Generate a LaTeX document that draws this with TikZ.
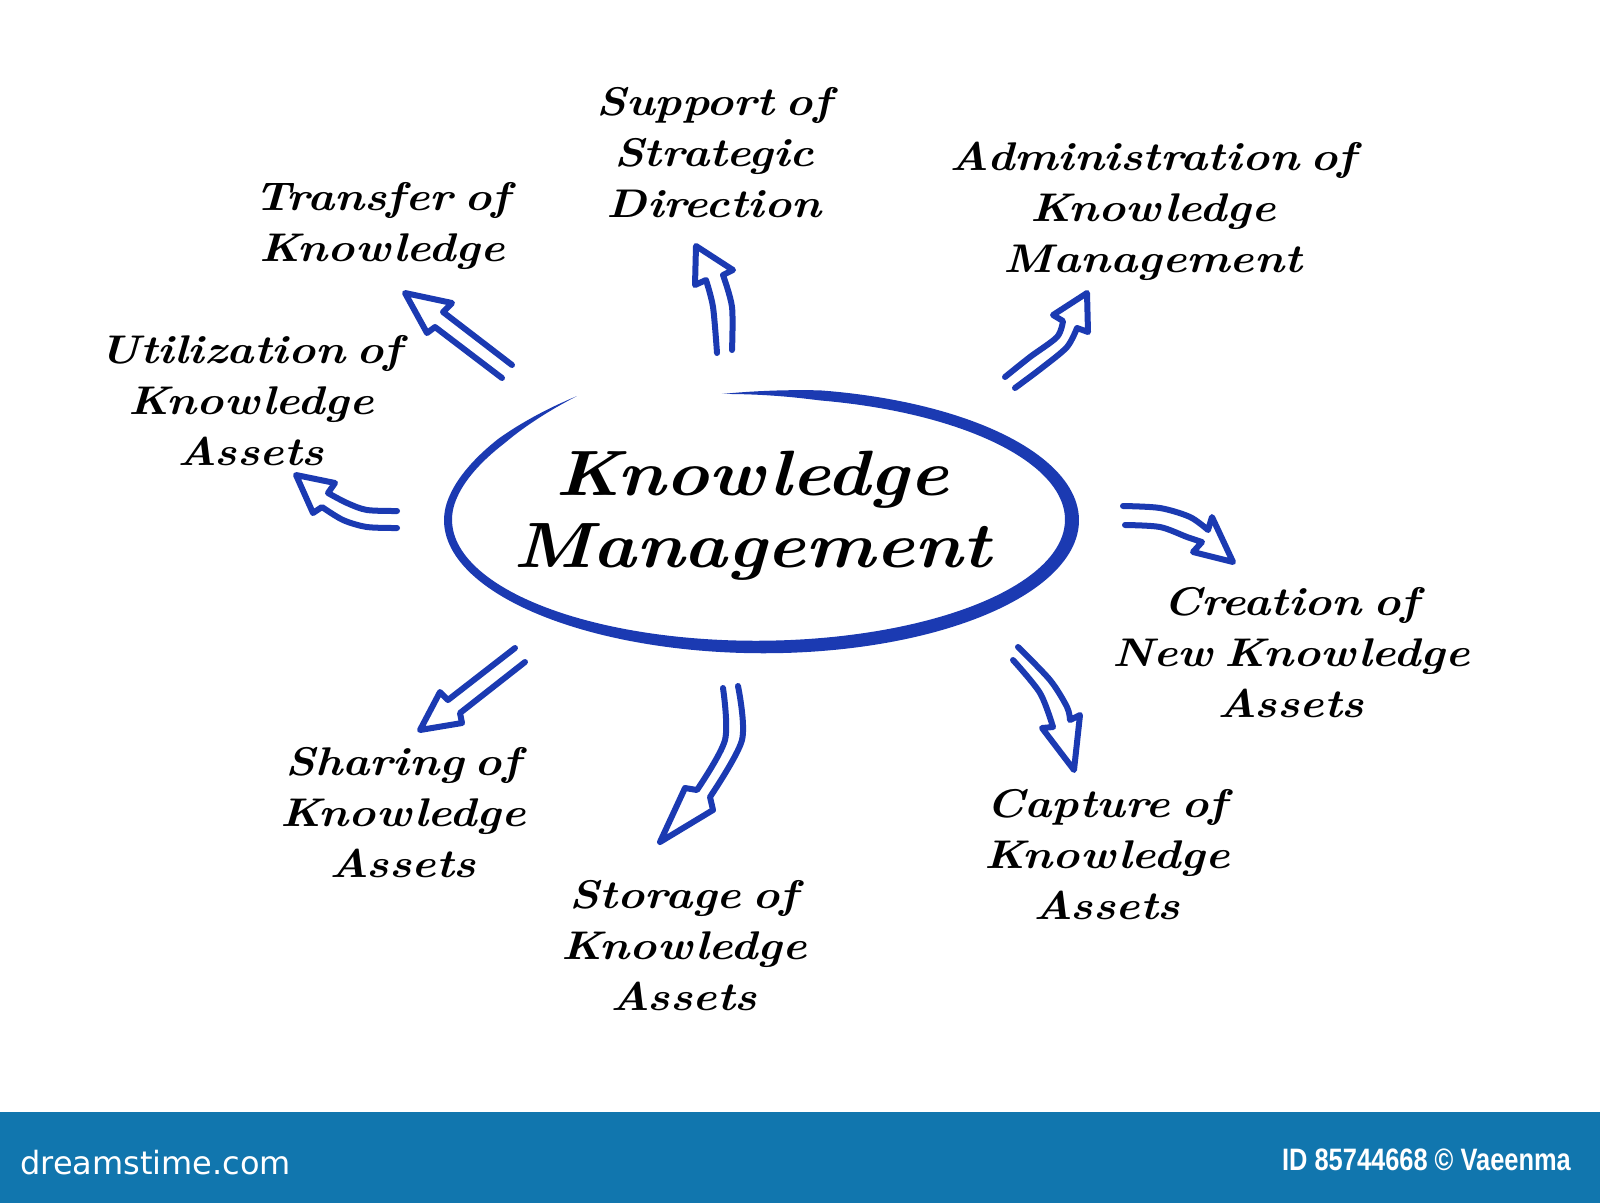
\documentclass[tikz,border=0pt]{standalone}
\usepackage{fontspec}
\newfontfamily\hand{lmroman10-bolditalic}[Extension=.otf, FakeStretch=1.15, WordSpace=0.6]
\newfontfamily\bannersans{Liberation Sans}[FakeStretch=0.82]
\newfontfamily\logosans{DejaVu Sans}
\definecolor{kmblue}{RGB}{27,58,178}
\definecolor{bannerblue}{RGB}{17,118,174}
\begin{document}
\begin{tikzpicture}[x=1pt,y=-1pt,
  lbl/.style={font=\hand\fontsize{40}{51}\selectfont, align=center, inner sep=0pt, text=black},
  ctr/.style={font=\hand\fontsize{64}{72}\selectfont, align=center, inner sep=0pt, text=black},
  kmarrow/.style={draw=kmblue, line width=6pt, line join=round, line cap=round},
  declare function={kmw(\t)=(11+3*cos(\t)-1.5*sin(\t))*min(1,(\t+234)/20,(97-\t)/18);
                    kme(\t)=26*max(0,(-190-\t)/44);}]
\useasboundingbox (0,0) rectangle (1600,1203);
\fill[white] (0,0) rectangle (1600,1203);

% central ellipse (hand-drawn, open, varying width)
\fill[kmblue] plot[domain=97:-234, samples=200] ({760+(312+kmw(\x)/2)*cos(\x)},{520-(127+kme(\x)+kmw(\x)/2)*sin(\x)})
  -- plot[domain=-234:97, samples=200] ({760+(312-kmw(\x)/2)*cos(\x)},{520-(127+kme(\x)-kmw(\x)/2)*sin(\x)}) -- cycle;
\node[ctr] (km) at (752,516) {Knowledge\\Management};

% labels
\node[lbl] (sup) at (714,153) {Support of\\Strategic\\Direction};
\node[lbl] (adm) at (1153,211) {Administration of\\Knowledge\\Management};
\node[lbl] (tra) at (382,226) {Transfer of\\Knowledge};
\node[lbl] (uti) at (251,401) {Utilization of\\Knowledge\\Assets};
\node[lbl] (cre) at (1291,653) {Creation of\\New Knowledge\\Assets};
\node[lbl] (cap) at (1107,855) {Capture of\\Knowledge\\Assets};
\node[lbl] (sto) at (684,946) {Storage of\\Knowledge\\Assets};
\node[lbl] (sha) at (403,813) {Sharing of\\Knowledge\\Assets};

% arrows (double-line shaft, open head)
% to Support
\draw[kmarrow] plot[smooth] coordinates {(717,353) (713,307) (706,280)}
  -- (695,285) -- (696,246) -- (733,270) -- (723,275)
  -- plot[smooth] coordinates {(723,275) (732,307) (732,350)};
% to Administration
\draw[kmarrow] plot[smooth] coordinates {(1005,377) (1030,357) (1057,337) (1063,321)}
  -- (1053,315) -- (1087,293) -- (1088,332) -- (1077,328)
  -- plot[smooth] coordinates {(1077,328) (1067,347) (1043,367) (1015,388)};
% to Transfer
\draw[kmarrow] (512,365) -- (443,312) -- (452,303) -- (405,293) -- (427,333) -- (435,327) -- (502,378);
% to Utilization
\draw[kmarrow] plot[smooth] coordinates {(397,511) (367,510) (347,503) (328,493)}
  -- (335,483) -- (296,475) -- (313,513) -- (322,507)
  -- plot[smooth] coordinates {(322,507) (343,520) (367,527) (397,528)};
% to Creation
\draw[kmarrow] plot[smooth] coordinates {(1123,506) (1160,508) (1190,517) (1208,530)}
  -- (1212,517) -- (1233,562) -- (1193,552) -- (1202,542)
  -- plot[smooth] coordinates {(1202,542) (1187,537) (1160,527) (1125,525)};
% to Capture
\draw[kmarrow] plot[smooth] coordinates {(1018,647) (1050,680) (1067,707) (1070,720)}
  -- (1080,715) -- (1074,770) -- (1042,728) -- (1053,727)
  -- plot[smooth] coordinates {(1053,727) (1040,693) (1013,660)};
% to Storage
\draw[kmarrow] plot[smooth] coordinates {(723,688) (725,740) (697,790)}
  -- (685,788) -- (660,842) -- (713,810) -- (710,797)
  -- plot[smooth] coordinates {(710,797) (742,740) (738,686)};
% to Sharing
\draw[kmarrow] (515,648) -- (448,700) -- (440,692) -- (420,730) -- (462,723) -- (460,713) -- (525,662);

% banner
\fill[bannerblue] (0,1112) rectangle (1600,1203);
\node[font=\logosans\fontsize{32}{32}\selectfont, text=white, anchor=west, inner sep=0pt] (logo) at (20,1163) {dreamstime.com};
\node[font=\bannersans\bfseries\fontsize{31}{31}\selectfont, text=white, anchor=east, inner sep=0pt] (idtxt) at (1571,1160) {ID 85744668 © Vaeenma};
\end{tikzpicture}
\end{document}
